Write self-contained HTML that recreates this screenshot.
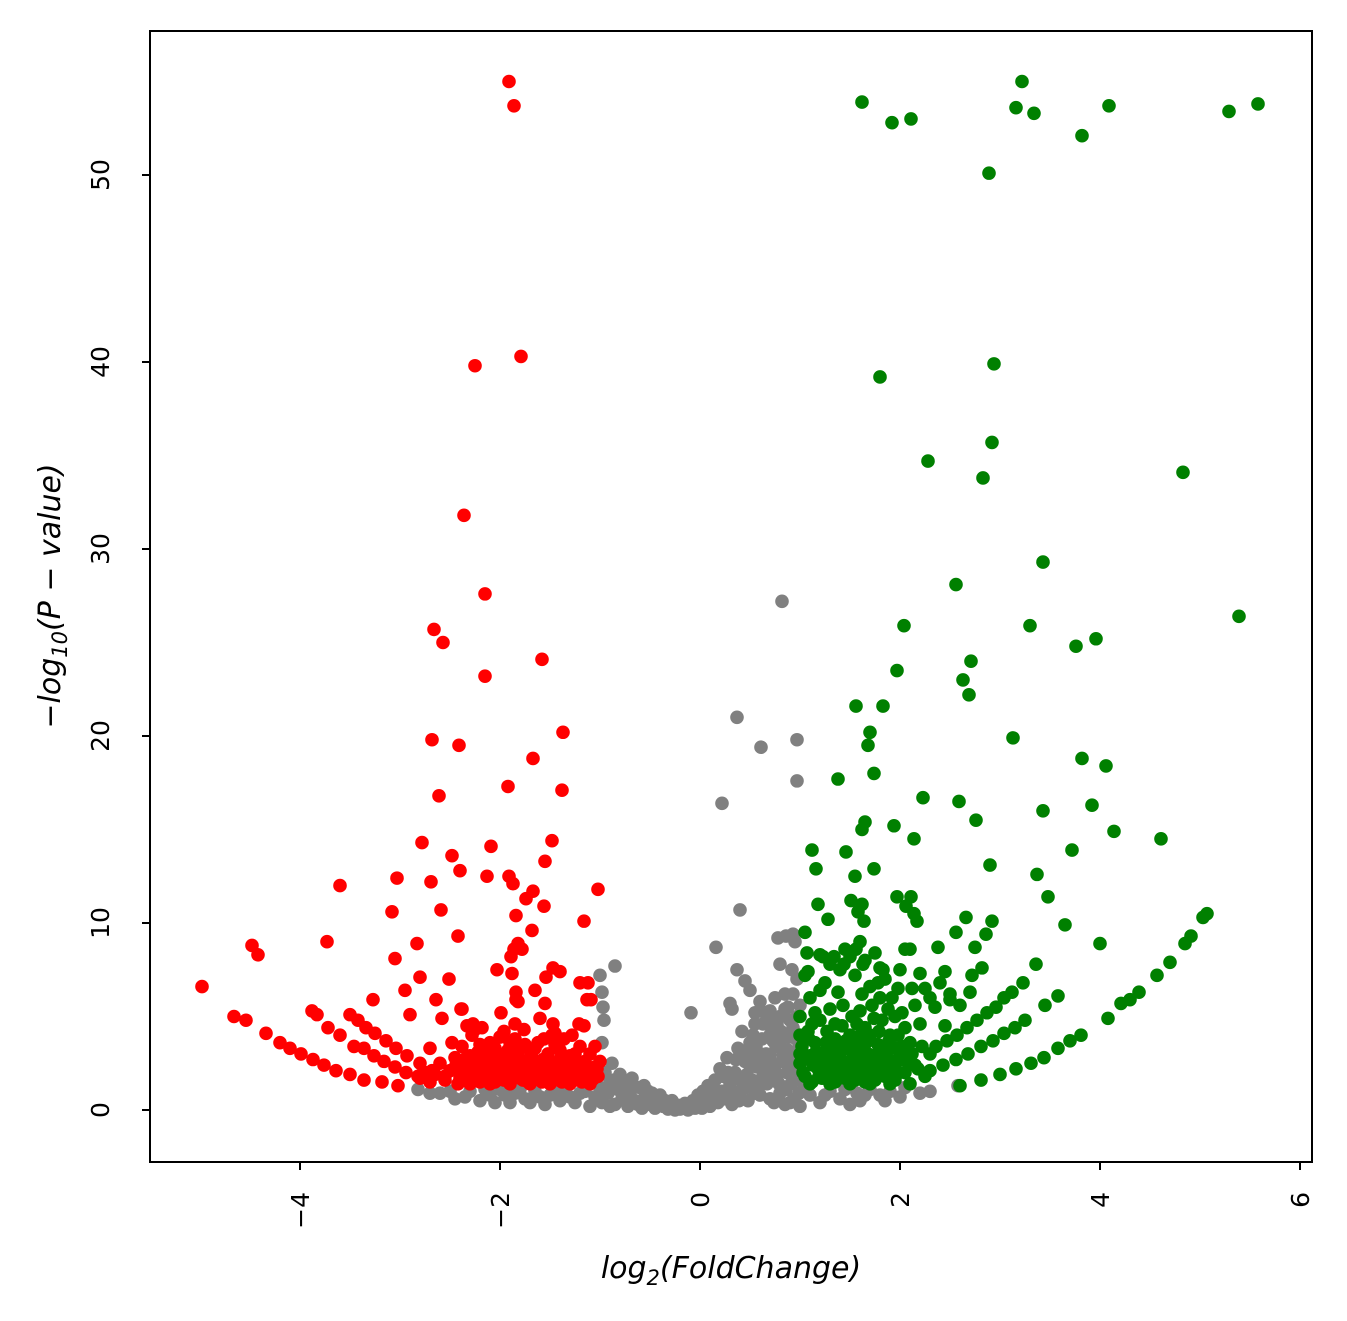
<!DOCTYPE html>
<html><head><meta charset="utf-8"><style>
html,body{margin:0;padding:0;background:#fff;}
svg{display:block;}
text{font-family:"DejaVu Sans","Liberation Sans",sans-serif;fill:#000;}
</style></head><body>
<svg id="chart" width="1347" height="1321" viewBox="0 0 1347 1321">
<g id="gray"></g>
<g id="red"></g>
<g id="green"></g>
<rect x="150" y="31" width="1162" height="1131" fill="none" stroke="#000" stroke-width="2"/>
<g id="axes"></g>
<text x="731" y="1278" text-anchor="middle" font-size="30" font-style="italic">log<tspan font-size="21" dy="7">2</tspan><tspan dy="-7">(FoldChange)</tspan></text>
<text transform="translate(60,596) rotate(-90)" text-anchor="middle" font-size="30" font-style="italic">−log<tspan font-size="21" dy="7">10</tspan><tspan dy="-7">(P − value)</tspan></text>
</svg>
<script>
const xTicks=[-4,-2,0,2,4,6];
const yTicks=[0,10,20,30,40,50];
const xTickLabels=["−4","−2","0","2","4","6"];
const yTickLabels=["0","10","20","30","40","50"];
const grayPts=[[-2.82,1.1],[-2.6,0.9],[-2.45,0.6],[-2.3,1.0],[-2.2,0.5],[-2.1,0.8],[-2.0,1.1],[-1.9,0.4],[-1.85,0.9],[-1.75,0.6],[-1.65,1.0],[-1.55,0.3],[-1.5,0.8],[-1.4,0.5],[-1.35,1.1],[-1.25,0.4],[-1.2,0.9],[-1.1,0.2],[-1.05,0.7],[-1.0,1.2],[-0.98,0.4],[-0.95,2.0],[-0.92,0.9],[-0.9,1.5],[-0.88,2.5],[-0.85,0.3],[-0.82,1.1],[-0.8,1.9],[-0.78,0.6],[-0.75,1.4],[-0.72,0.2],[-0.7,0.9],[-0.68,1.7],[-0.65,0.5],[-0.6,1.2],[-0.58,0.1],[-0.55,0.7],[-0.52,1.0],[-0.5,0.3],[-0.47,0.6],[-0.45,0.1],[-0.42,0.4],[-0.4,0.8],[-0.37,0.2],[-0.35,0.5],[-0.32,0.05],[-0.3,0.3],[-0.27,0.15],[-0.25,0.0],[-0.22,0.25],[-0.2,0.05],[-0.17,0.1],[-0.15,0.35],[-0.12,0.0],[-0.1,0.2],[-0.07,0.5],[-0.05,0.1],[-0.02,0.8],[0.0,0.3],[0.03,1.0],[0.05,0.5],[0.08,1.3],[0.1,0.2],[0.12,0.8],[0.15,1.6],[0.18,0.4],[0.2,2.2],[0.22,1.0],[0.25,0.6],[0.27,2.8],[0.3,1.4],[0.32,0.3],[0.35,2.0],[0.38,3.3],[0.4,1.0],[0.42,4.2],[0.45,2.6],[0.48,0.5],[0.5,3.6],[0.52,1.6],[0.55,4.6],[0.57,2.3],[0.6,0.8],[0.62,3.8],[0.65,5.2],[0.67,1.4],[0.7,2.9],[0.72,4.4],[0.74,0.4],[0.76,3.4],[0.78,1.9],[0.8,5.0],[0.82,2.6],[0.84,4.0],[0.86,1.1],[0.88,3.2],[0.9,4.8],[0.92,2.2],[0.94,0.6],[0.96,3.8],[0.98,1.6],[1.0,5.6],[0.6,3.0],[0.7,4.0],[0.8,3.5],[0.9,2.8],[0.5,2.4],[0.65,1.9],[0.85,0.3],[1.0,0.2],[1.1,0.8],[1.2,0.4],[1.3,1.0],[1.4,0.6],[1.5,0.3],[1.57,0.9],[1.6,0.5],[1.7,1.1],[1.8,0.8],[1.9,1.0],[2.0,0.7],[2.05,1.2],[2.3,1.0],[2.58,1.3],[0.95,9.0],[0.92,7.5],[0.85,6.2],[0.82,27.2],[0.37,21.0],[0.61,19.4],[0.97,19.8],[0.97,17.6],[0.22,16.4],[0.40,10.7],[0.16,8.7],[-0.85,7.7],[-1.0,7.2],[-0.98,6.3],[-0.97,5.5],[-0.96,4.8],[-0.09,5.2],[0.78,9.2],[0.86,9.3],[0.93,9.4],[0.80,7.8],[0.37,7.5],[0.97,7.0],[0.93,6.2],[0.3,5.7],[0.32,5.4],[0.45,6.9],[0.5,6.4],[0.6,5.8],[0.7,5.3],[-0.98,3.6],[0.75,6.0],[0.55,5.2],[0.88,5.5],
[-2.7,0.9],[-2.5,1.0],[-2.35,0.7],[-2.15,1.1],[-2.05,0.4],[-1.95,0.8],[-1.8,1.1],[-1.7,0.4],[-1.6,0.7],[-1.45,1.0],[-1.3,0.7],[-1.15,1.0],[-0.96,1.0],[-0.9,0.2],[-0.86,1.6],[-0.76,1.0],[-0.66,1.2],[-0.62,0.3],[-0.56,1.3],[-0.48,0.9],[-0.43,0.7],[-0.38,0.6],[-0.33,0.4],[-0.28,0.5],[0.02,0.1],[0.07,0.8],[0.13,1.2],[0.17,0.7],[0.23,1.8],[0.28,2.0],[0.33,1.0],[0.36,2.7],[0.41,1.6],[0.44,3.1],[0.47,1.9],[0.51,2.9],[0.53,4.0],[0.56,3.4],[0.58,1.2],[0.61,2.5],[0.63,4.6],[0.66,3.0],[0.68,2.2],[0.69,4.8],[0.71,1.7],[0.73,3.7],[0.75,2.4],[0.77,4.6],[0.79,1.4],[0.81,4.2],[0.83,3.0],[0.85,5.4],[0.87,2.0],[0.89,3.9],[0.91,1.4],[0.93,4.4],[0.95,2.8],[0.97,5.0],[0.99,3.3],[0.99,0.9],[0.9,0.4],[0.8,0.9],[0.7,0.6],[0.62,1.7],[0.55,0.9],[0.46,1.2],[0.39,0.5],[1.05,1.2],[1.25,0.8],[1.45,1.1],[1.65,0.8],[1.85,0.5],[2.2,0.9]];
const redPts=[[-1.91,55.0],[-1.86,53.7],[-1.79,40.3],[-2.25,39.8],[-2.36,31.8],[-2.15,27.6],[-2.66,25.7],[-2.57,25.0],[-1.58,24.1],[-2.15,23.2],[-1.37,20.2],[-2.68,19.8],[-2.41,19.5],[-1.67,18.8],[-1.92,17.3],[-1.38,17.1],[-2.61,16.8],[-1.48,14.4],[-2.78,14.3],[-2.09,14.1],[-2.48,13.6],[-1.55,13.3],[-2.40,12.8],[-1.91,12.5],[-2.13,12.5],[-3.03,12.4],[-2.69,12.2],[-1.87,12.1],[-3.60,12.0],[-1.67,11.7],[-1.02,11.8],[-1.74,11.3],[-1.56,10.9],[-2.59,10.7],[-3.08,10.6],[-1.84,10.4],[-1.16,10.1],[-1.68,9.6],[-2.42,9.3],[-3.73,9.0],[-2.83,8.9],[-4.48,8.8],[-1.82,8.9],[-1.86,8.6],[-1.78,8.6],[-4.42,8.3],[-1.89,8.2],[-3.05,8.1],[-2.03,7.5],[-1.47,7.6],[-1.88,7.3],[-1.40,7.4],[-2.80,7.1],[-2.51,7.0],[-1.54,7.1],[-1.20,6.8],[-1.12,6.8],[-4.98,6.6],[-2.95,6.4],[-1.84,6.3],[-1.65,6.4],[-3.27,5.9],[-2.64,5.9],[-1.84,5.9],[-1.82,5.8],[-1.13,5.9],[-1.09,5.9],[-1.55,5.7],[-2.38,5.4],[-2.39,5.4],[-2.90,5.1],[-4.66,5.0],[-4.54,4.8],[-2.58,4.9],[-1.60,4.9],[-1.21,4.6],[-1.47,4.6],[-1.48,4.0],[-2.27,4.6],[-1.99,5.2],[-2.25,4.3],
[-4.34,4.1],[-4.20,3.6],[-4.10,3.3],[-3.99,3.0],[-3.87,2.7],[-3.76,2.4],[-3.64,2.1],[-3.50,1.9],[-3.36,1.6],[-3.18,1.5],[-3.02,1.3],
[-3.88,5.3],[-3.83,5.1],[-3.72,4.4],[-3.60,4.0],[-3.50,5.1],[-3.42,4.8],[-3.34,4.4],[-3.25,4.1],[-3.14,3.7],[-3.04,3.3],[-2.93,2.9],[-2.80,2.5],[-2.68,2.1],[-2.55,1.8],
[-3.46,3.4],[-3.36,3.3],[-3.26,2.9],[-3.16,2.6],[-3.05,2.3],[-2.94,2.0],[-2.82,1.8],[-2.70,1.5],
[-2.55,1.6],[-2.5,2.1],[-2.45,2.8],[-2.42,1.4],[-2.38,3.4],[-2.35,2.2],[-2.3,1.7],[-2.28,4.0],[-2.25,2.6],[-2.22,3.1],[-2.2,1.5],[-2.18,4.4],[-2.15,2.3],[-2.12,1.9],[-2.1,3.6],[-2.08,2.8],[-2.05,1.5],[-2.02,2.2],[-2.0,3.9],[-1.98,1.8],[-1.95,2.6],[-1.92,3.2],[-1.9,1.5],[-1.88,2.2],[-1.85,4.6],[-1.82,2.9],[-1.8,1.7],[-1.78,2.4],[-1.75,3.5],[-1.72,1.5],[-1.7,2.1],[-1.68,2.8],[-1.65,1.8],[-1.62,3.6],[-1.6,2.4],[-1.58,1.5],[-1.55,2.0],[-1.52,3.0],[-1.5,1.6],[-1.48,2.5],[-1.45,4.1],[-1.42,1.9],[-1.4,3.2],[-1.38,1.5],[-1.35,2.3],[-1.32,1.7],[-1.3,2.9],[-1.28,4.0],[-1.25,1.6],[-1.22,2.2],[-1.2,3.4],[-1.18,1.5],[-1.15,2.6],[-1.12,1.9],[-1.1,3.0],[-1.08,1.6],[-1.05,2.3],[-1.02,1.8],[-1.0,2.6],[-2.6,2.5],[-2.65,1.9],[-2.7,3.3],[-2.75,2.0],[-2.8,1.7],[-2.48,3.6],[-2.33,4.5],[-2.14,3.0],[-1.96,4.2],[-1.76,4.3],[-1.56,3.8],[-1.36,3.8],[-1.16,4.5],[-2.4,2.0],[-2.2,2.0],[-2.0,2.0],[-1.8,2.0],[-1.6,2.0],[-1.4,2.0],[-1.2,2.0],[-2.3,2.9],[-2.0,2.9],[-1.7,3.2],[-1.4,2.7],[-1.1,1.4],[-1.3,1.4],[-1.5,1.4],[-1.7,1.4],[-1.9,1.4],[-2.1,1.4],[-2.3,1.4],
[-2.44,2.4],[-2.4,1.7],[-2.36,2.7],[-2.32,1.9],[-2.27,2.3],[-2.24,1.7],[-2.2,2.7],[-2.16,1.6],[-2.13,2.6],[-2.1,2.1],[-2.06,2.5],[-2.03,1.7],[-1.99,2.4],[-1.96,1.6],[-1.93,2.1],[-1.9,2.8],[-1.86,1.8],[-1.83,2.5],[-1.8,3.3],[-1.77,1.6],[-1.74,2.2],[-1.71,2.7],[-1.67,1.6],[-1.64,2.3],[-1.6,1.7],[-1.57,2.7],[-1.53,1.7],[-1.5,2.2],[-1.47,1.8],[-1.44,2.4],[-1.41,1.6],[-1.37,2.5],[-1.34,1.8],[-1.31,2.2],[-1.27,1.6],[-1.24,2.6],[-1.2,1.7],[-1.17,2.2],[-1.13,1.6],[-1.1,2.1],[-1.06,1.7],[-1.03,2.2],[-2.05,3.3],[-1.85,3.8],[-1.65,3.3],[-1.45,3.5],[-1.25,3.0],[-1.05,3.4],[-2.2,3.5],[-1.9,3.6]];
const greenPts=[[3.22,55.0],[1.62,53.9],[3.16,53.6],[3.34,53.3],[4.09,53.7],[5.58,53.8],[5.29,53.4],[1.92,52.8],[2.11,53.0],[3.82,52.1],[2.89,50.1],[2.94,39.9],[1.80,39.2],[2.92,35.7],[2.28,34.7],[4.83,34.1],[2.83,33.8],[3.43,29.3],[2.56,28.1],[5.39,26.4],[2.04,25.9],[3.30,25.9],[3.96,25.2],[3.76,24.8],[2.71,24.0],[1.97,23.5],[2.63,23.0],[2.69,22.2],[1.56,21.6],[1.83,21.6],[1.70,20.2],[3.13,19.9],[1.68,19.5],[3.82,18.8],[4.06,18.4],[1.74,18.0],[1.38,17.7],[2.23,16.7],[2.59,16.5],[3.92,16.3],[3.43,16.0],[1.65,15.4],[2.76,15.5],[1.94,15.2],[1.62,15.0],[4.14,14.9],[2.14,14.5],[4.61,14.5],[3.72,13.9],[1.46,13.8],[1.12,13.9],[2.90,13.1],[1.74,12.9],[1.16,12.9],[1.55,12.5],[3.37,12.6],
[5.07,10.5],[5.03,10.3],[4.91,9.3],[4.85,8.9],[4.70,7.9],[4.57,7.2],[4.39,6.3],[4.30,5.9],[4.21,5.7],[4.08,4.9],
[3.81,4.0],[3.70,3.7],[3.58,3.3],[3.44,2.8],[3.31,2.5],[3.16,2.2],[3.0,1.9],[2.81,1.6],[2.60,1.3],
[3.23,6.8],[3.12,6.3],[3.04,6.0],[2.96,5.5],[2.87,5.2],[2.77,4.8],[2.67,4.4],[2.57,4.0],[2.47,3.7],[2.36,3.4],
[3.25,4.8],[3.15,4.4],[3.04,4.1],[2.93,3.7],[2.81,3.4],[2.68,3.0],[2.56,2.7],[2.43,2.4],[2.30,2.1],
[3.48,11.4],[3.65,9.9],[4.0,8.9],[3.36,7.8],[3.58,6.1],[3.45,5.6],[2.66,10.3],[2.92,10.1],[2.56,9.5],[2.86,9.4],[2.75,8.7],[2.38,8.7],[2.45,7.4],[2.72,7.2],[2.82,7.6],[1.97,11.4],[2.11,11.4],[2.06,10.9],[2.14,10.5],[2.17,10.1],[1.51,11.2],[1.62,11.0],[1.58,10.6],[1.64,10.1],[1.18,11.0],[1.28,10.2],[1.05,9.5],[1.07,8.4],[1.08,7.4],[1.23,8.2],[1.34,8.2],[1.44,7.8],[1.56,8.6],[1.63,7.8],[1.83,7.5],[2.05,8.6],[2.20,7.3],[2.30,6.0],[2.5,6.2],[2.6,5.6],[2.7,6.3],
[1.0,2.5],[1.02,3.4],[1.05,1.8],[1.08,4.2],[1.1,2.9],[1.12,1.5],[1.15,3.6],[1.18,2.2],[1.2,4.8],[1.22,1.7],[1.25,3.1],[1.28,2.4],[1.3,5.4],[1.32,1.6],[1.35,3.8],[1.38,2.1],[1.4,2.8],[1.42,4.5],[1.45,1.7],[1.48,3.3],[1.5,2.3],[1.52,5.0],[1.55,1.6],[1.58,3.9],[1.6,2.7],[1.62,1.9],[1.65,4.4],[1.68,3.0],[1.7,2.1],[1.72,5.6],[1.75,1.6],[1.78,3.5],[1.8,2.5],[1.82,4.8],[1.85,1.8],[1.88,3.2],[1.9,2.2],[1.92,6.0],[1.95,1.6],[1.98,4.0],[2.0,2.7],[2.02,5.2],[2.05,2.0],[2.1,3.6],[2.12,6.5],[2.15,2.4],[2.2,4.6],[2.25,1.8],[2.3,3.0],[1.1,6.0],[1.25,6.8],[1.4,7.5],[1.55,7.2],[1.7,6.6],[1.85,7.0],[2.0,7.5],[1.15,5.2],[1.35,4.6],[1.6,5.3],[1.8,6.0],[1.95,5.0],[1.3,7.8],[1.5,8.2],[1.65,8.0],[1.8,7.6],[1.05,7.2],[1.2,8.3],[1.45,8.6],[1.6,9.0],[1.75,8.4],[2.1,8.6],[2.25,6.5],[2.35,5.5],[2.45,4.5],[2.4,6.8],[2.5,5.9],[1.1,1.4],[1.3,1.4],[1.5,1.4],[1.7,1.4],[1.9,1.4],[2.1,1.4],[1.0,3.0],[1.0,4.0],[1.0,5.0],[1.2,3.0],[1.4,3.0],[1.6,3.0],[1.8,3.0],[2.0,3.0],[1.3,2.0],[1.5,2.0],[1.7,4.0],[1.9,4.0],[1.5,4.0],
[1.03,2.0],[1.06,2.8],[1.09,3.8],[1.13,2.4],[1.16,3.1],[1.19,1.8],[1.23,2.6],[1.26,3.6],[1.29,2.9],[1.33,2.4],[1.36,3.3],[1.39,1.7],[1.43,2.5],[1.46,3.7],[1.49,2.0],[1.53,2.8],[1.56,3.4],[1.59,2.1],[1.63,2.5],[1.66,3.6],[1.69,2.4],[1.73,2.9],[1.76,2.0],[1.79,4.2],[1.83,2.2],[1.86,2.8],[1.89,3.7],[1.93,2.6],[1.96,3.3],[1.99,2.0],[2.03,3.4],[2.07,2.6],[2.12,3.0],[2.18,2.2],[2.22,3.4],[1.12,4.6],[1.27,4.2],[1.43,5.6],[1.57,4.6],[1.74,4.9],[1.88,5.4],[2.05,4.4],[2.15,5.6],[1.2,6.4],[1.38,6.3],[1.62,6.2],[1.78,6.8],[1.98,6.5],[1.35,1.5],[1.65,1.5],[1.95,2.4]];

const NS='http://www.w3.org/2000/svg';
function xs(v){return 700+v*100;}
function ys(v){return 1110-v*18.7;}
function drawSeries(id,pts,color,name){
  const g=document.getElementById(id);
  pts.forEach(p=>{
    const c=document.createElementNS(NS,'circle');
    c.setAttribute('cx',xs(p[0]));c.setAttribute('cy',ys(p[1]));c.setAttribute('r',6.8);c.setAttribute('fill',color);
    
    
    g.appendChild(c);
  });
}
drawSeries('gray',grayPts,'#808080','gray-point');
drawSeries('red',redPts,'#ff0000','red-point');
drawSeries('green',greenPts,'#008000','green-point');
const ax=document.getElementById('axes');
xTicks.forEach((t,i)=>{
  const l=document.createElementNS(NS,'line');
  l.setAttribute('x1',xs(t));l.setAttribute('x2',xs(t));l.setAttribute('y1',1162);l.setAttribute('y2',1170);l.setAttribute('stroke','#000');l.setAttribute('stroke-width',2);
  
  
  ax.appendChild(l);
  const tx=document.createElementNS(NS,'text');
  tx.setAttribute('transform','translate('+(xs(t)+9)+',1192) rotate(-90)');
  tx.setAttribute('text-anchor','end');tx.setAttribute('font-size','25');
  tx.textContent=xTickLabels[i];
  
  
  ax.appendChild(tx);
});
yTicks.forEach((t,i)=>{
  const l=document.createElementNS(NS,'line');
  l.setAttribute('x1',142);l.setAttribute('x2',150);l.setAttribute('y1',ys(t));l.setAttribute('y2',ys(t));l.setAttribute('stroke','#000');l.setAttribute('stroke-width',2);
  
  
  ax.appendChild(l);
  const tx=document.createElementNS(NS,'text');
  tx.setAttribute('transform','translate(109,'+ys(t)+') rotate(-90)');
  tx.setAttribute('text-anchor','middle');tx.setAttribute('font-size','25');
  tx.textContent=yTickLabels[i];
  
  
  ax.appendChild(tx);
});
</script>
</body></html>
